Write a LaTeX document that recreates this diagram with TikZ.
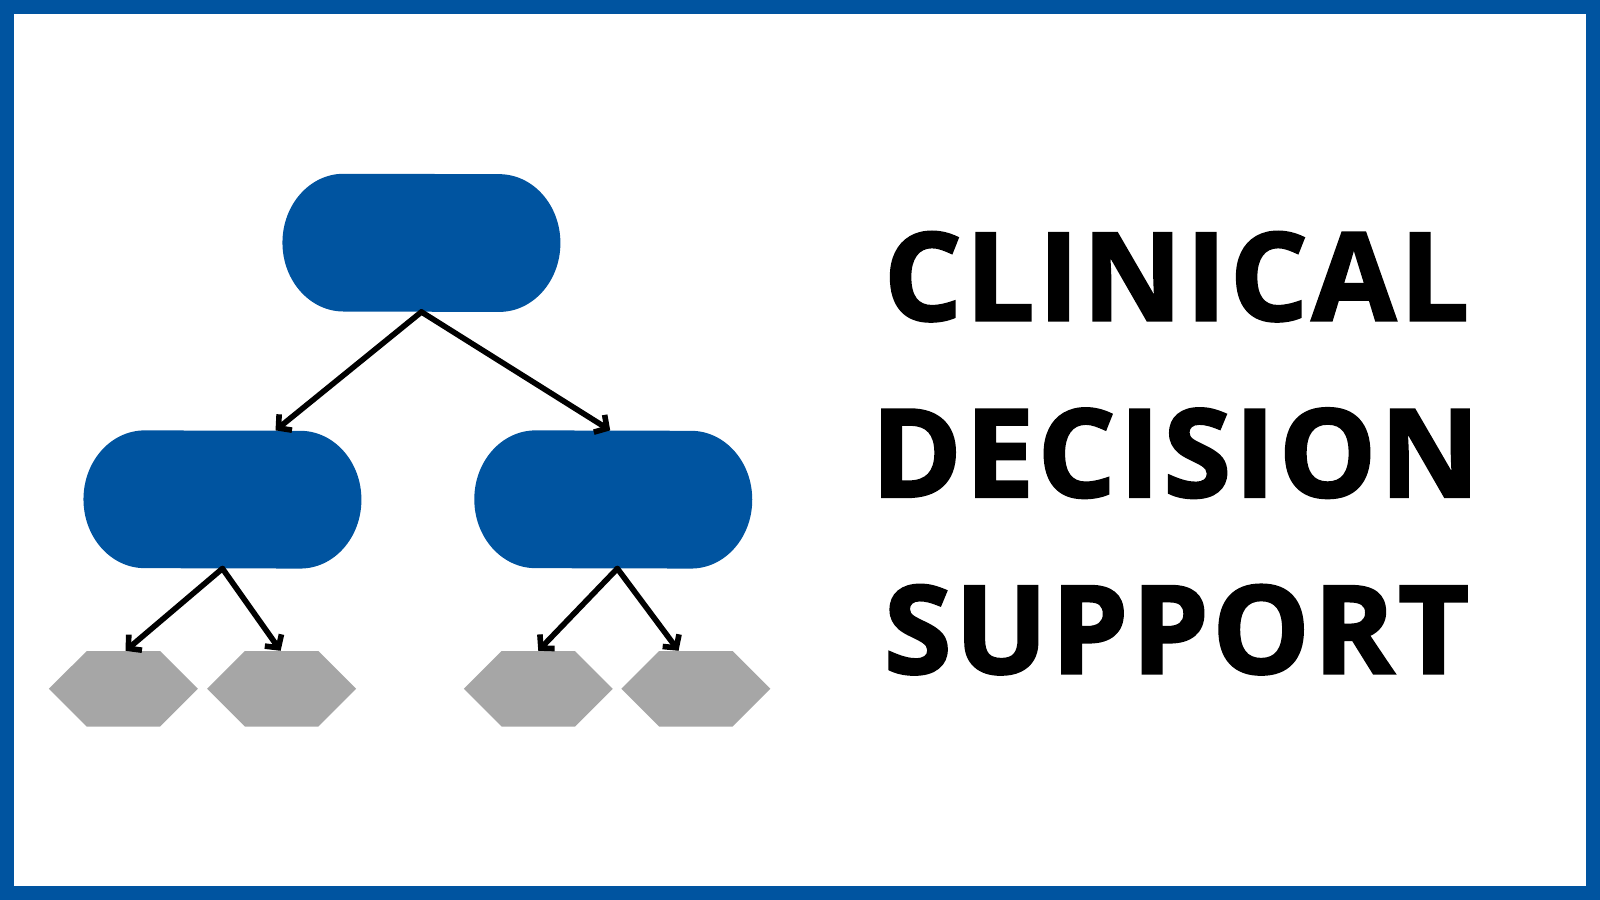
\documentclass[tikz,border=0pt]{standalone}
\usepackage{fontspec}
\IfFontExistsTF{Open Sans ExtraBold}
  {\setmainfont{Open Sans}[BoldFont={Open Sans ExtraBold},LetterSpace=3]}
  {\setmainfont{Open Sans}[BoldFeatures={FakeBold=2},LetterSpace=3]}
\usetikzlibrary{arrows.meta,shapes.symbols}
\definecolor{frameblue}{RGB}{0,84,160}
\definecolor{hexgray}{RGB}{166,166,166}
\newcommand{\stadiumfill}[1]{%
  \fill[frameblue] ([xshift=60pt]#1.north west)
    arc[start angle=90,end angle=270,x radius=60pt,y radius=67.5pt]
    -- ([xshift=-60pt]#1.south east)
    arc[start angle=-90,end angle=90,x radius=60pt,y radius=67.5pt] -- cycle;}
\begin{document}
\begin{tikzpicture}[x=1pt,y=1pt,
  stadium/.style={minimum width=272pt,minimum height=135pt,inner sep=0pt},
  hexnode/.style={shape=signal,signal to=west and east,signal pointer angle=90,fill=hexgray,minimum width=146pt,minimum height=74pt,inner sep=0pt},
  link/.style={draw=black,line width=5.5pt,line cap=round,-{Straight Barb[length=9pt,width=20pt,line width=5.5pt]}},
  title/.style={anchor=base,inner sep=0pt,font=\fontsize{120}{140}\selectfont\bfseries}]
\fill[frameblue] (0,0) rectangle (1568,882);
\fill[white] (14,14) rectangle (1554,868);
\useasboundingbox (0,0) rectangle (1568,882);
\node[stadium] (top) at (413,644) {};
\node[stadium] (lm) at (218,392.5) {};
\node[stadium] (rm) at (601,392.5) {};
\stadiumfill{top}
\stadiumfill{lm}
\stadiumfill{rm}
\node[hexnode] (h1) at (121,207) {};
\node[hexnode] (h2) at (276,207) {};
\node[hexnode] (h3) at (527.5,207) {};
\node[hexnode] (h4) at (682,207) {};
\draw[link] (top.south) -- ([xshift=52pt]lm.north);
\draw[link] (top.south) -- ([xshift=-3pt]rm.north);
\draw[link] (lm.south) -- ([xshift=2pt]h1.north);
\draw[link] (lm.south) -- ([xshift=-1pt]h2.north);
\draw[link] ([xshift=4pt]rm.south) -- ([xshift=0pt]h3.north);
\draw[link] ([xshift=4pt]rm.south) -- ([xshift=-17pt]h4.north);
\node[title] (t1) at (1153,568) {CLINICAL};
\node[title] (t2) at (1152,395) {DECISION};
\node[title] (t3) at (1153,222) {SUPPORT};
\end{tikzpicture}
\end{document}
